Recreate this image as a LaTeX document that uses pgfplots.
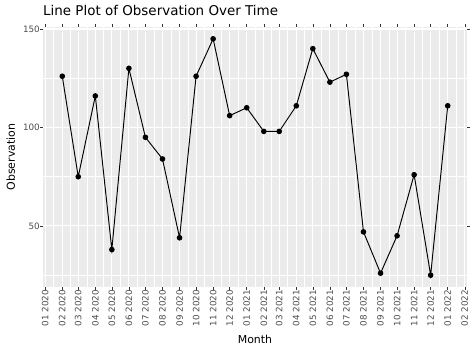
\documentclass[border=0pt]{standalone}
\usepackage{pgfplots}
\pgfplotsset{compat=1.18}
\usepackage{fontspec}
\setmainfont{DejaVu Sans}
\definecolor{panel}{HTML}{EBEBEB}
\definecolor{ticklab}{HTML}{4D4D4D}
\definecolor{tickcol}{HTML}{333333}
\begin{document}
\begin{tikzpicture}
\begin{axis}[
  name=ax,
  at={(0,0)}, anchor=south west,
  scale only axis,
  width=424bp, height=260bp,
  xmin=-4, xmax=766,
  ymin=19, ymax=151,
  axis background/.style={fill=panel},
  axis line style={draw=none},
  grid=both,
  major grid style={white, line width=1.07bp},
  minor grid style={white, line width=0.53bp},
  tick align=outside,
  major tick length=3bp,
  minor tick length=0pt,
  tick style={color=tickcol, line width=0.55bp},
  xtick={0,31,60,91,121,152,182,213,244,274,305,335,366,397,425,456,486,517,547,578,609,639,670,700,731,762},
  xticklabels={01 2020,02 2020,03 2020,04 2020,05 2020,06 2020,07 2020,08 2020,09 2020,10 2020,11 2020,12 2020,01 2021,02 2021,03 2021,04 2021,05 2021,06 2021,07 2021,08 2021,09 2021,10 2021,11 2021,12 2021,01 2022,02 2022},
  minor xtick={15.5,45.5,75.5,106,136.5,167,197.5,228.5,259,289.5,320,350.5,381.5,411,440.5,471,501.5,532,562.5,593.5,624,654.5,685,715.5,746.5},
  ytick={50,100,150},
  minor ytick={25,75,125},
  /pgf/number format/assume math mode=true,
  xticklabel style={rotate=90, anchor=east, inner sep=0pt, font=\fontsize{8.8}{10}\selectfont, text=ticklab},
  yticklabel style={anchor=east, inner sep=0pt, font=\fontsize{8.8}{10}\selectfont, text=ticklab},
  every axis title shift=0pt,
  title={Line Plot of Observation Over Time},
  title style={at={(axis description cs:0,1)}, anchor=base west, yshift=11.5bp, inner sep=0pt, font=\fontsize{13.5}{16}\selectfont},
  xlabel={Month},
  xlabel style={at={(axis description cs:0.5,0)}, anchor=base, yshift=-56.5bp, inner sep=0pt, font=\fontsize{11}{13}\selectfont},
  ylabel={Observation},
  ylabel style={at={([xshift=-28bp]axis description cs:0,0.5)}, rotate=0, anchor=base, inner sep=0pt, font=\fontsize{11}{13}\selectfont},
]
\addplot[black, line width=0.95bp, mark=*, mark size=2.3bp, mark options={solid, fill=black}] coordinates {
(31,126) (60,75) (91,116) (121,38) (152,130) (182,95) (213,84) (244,44)
(274,126) (305,145) (335,106) (366,110) (397,98) (425,98) (456,111) (486,140)
(517,123) (547,127) (578,47) (609,26) (639,45) (670,76) (700,25) (731,111)
};
\end{axis}
\pgfresetboundingbox
\path[use as bounding box] (ax.south west) ++(-43bp,-68bp) rectangle ++(474bp,355bp);
\end{tikzpicture}
\end{document}
